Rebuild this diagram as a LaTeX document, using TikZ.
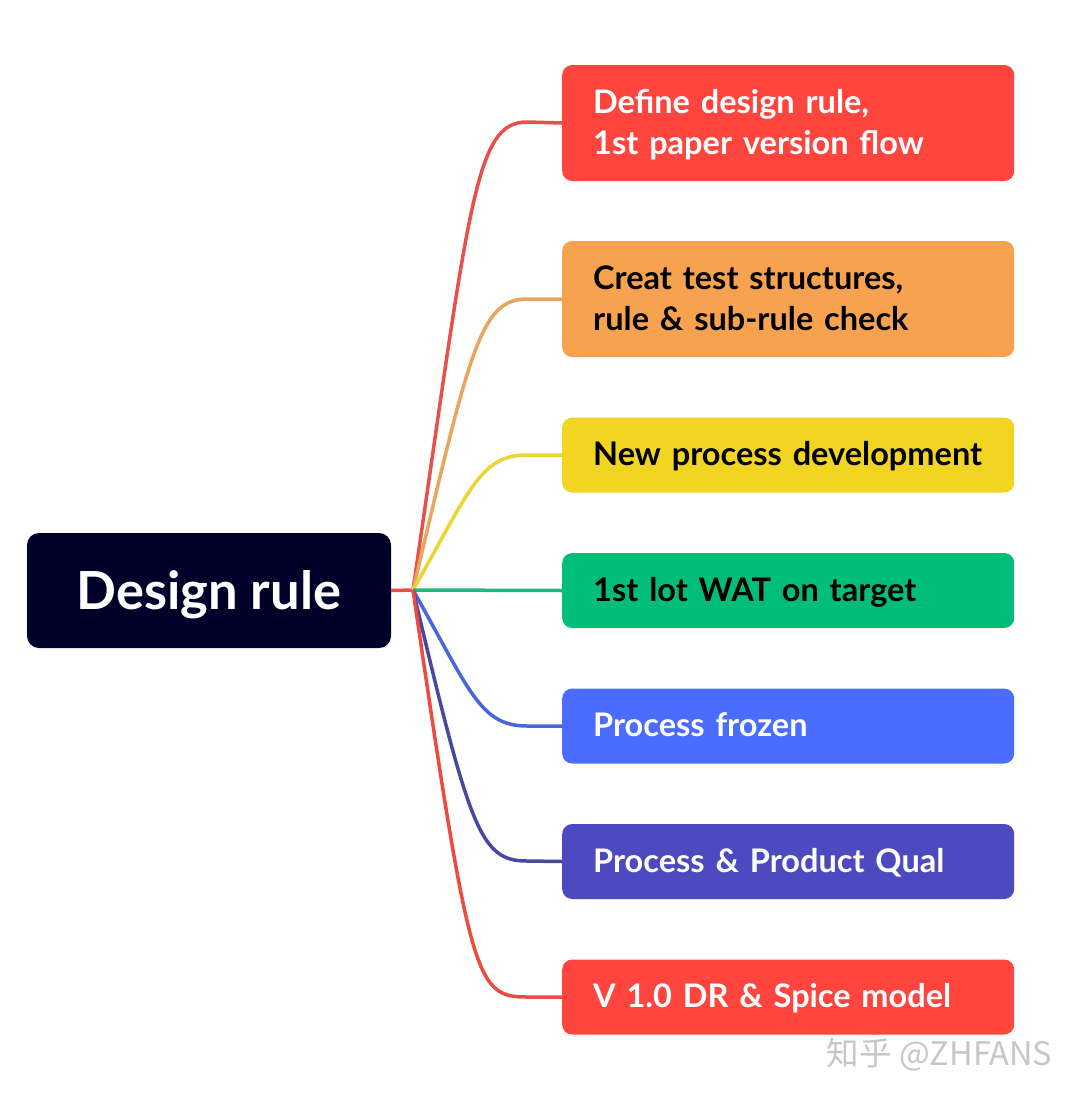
\documentclass[tikz,border=0pt]{standalone}
\usepackage{fontspec}
\setmainfont{Lato}[Scale=1]
\newfontfamily\cjkfont{Noto Sans CJK SC}
\definecolor{rootc}{HTML}{000028}
\definecolor{redc}{HTML}{FF453D}
\definecolor{orangec}{HTML}{F7A24E}
\definecolor{yellowc}{HTML}{F2D422}
\definecolor{greenc}{HTML}{00BE79}
\definecolor{bluec}{HTML}{4A6CFF}
\definecolor{indigoc}{HTML}{4D49BE}
\definecolor{lredc}{HTML}{E8504A}
\definecolor{lorangec}{HTML}{E8A55E}
\definecolor{lyellowc}{HTML}{ECD433}
\definecolor{lgreenc}{HTML}{1DB87F}
\definecolor{lbluec}{HTML}{4A66DD}
\definecolor{lindigoc}{HTML}{4A479F}
\definecolor{lastredc}{HTML}{EE4A40}
\newcommand{\topstrut}{\rule{0pt}{30pt}}
\newcommand{\botstrut}{\rule[-9pt]{0pt}{9pt}}
\tikzset{
  x=1pt,y=-1pt,
  leaf/.style={rectangle,rounded corners=10pt,minimum width=452pt,inner xsep=0pt,inner ysep=0pt,anchor=west,font=\fontsize{32.5}{41}\selectfont\bfseries,align=left,text width=390pt},
  tall/.style={leaf,minimum height=116pt},
  short/.style={leaf,minimum height=75pt,text height=29pt,text depth=8pt},
  conn/.style={line width=3.5pt}
}
\begin{document}
\begin{tikzpicture}
\useasboundingbox (0,0) rectangle (1080,1100);
\fill[white] (0,0) rectangle (1080,1100);
\node[rectangle,rounded corners=12pt,fill=rootc,text=white,minimum width=364pt,minimum height=115pt,text height=49pt,text depth=12pt,font=\fontsize{52.5}{50}\selectfont\bfseries] (root) at (209,590.5) {Design rule};
\coordinate (hub) at (413,590);
\node[tall,fill=redc,text=white] (n1) at (562,123) {\topstrut Define design rule,\\1st paper version flow\botstrut};
\node[tall,fill=orangec,text=black] (n2) at (562,299) {\topstrut Creat test structures,\\rule \& sub-rule check\botstrut};
\node[short,fill=yellowc,text=black] (n3) at (562,455) {New process development};
\node[short,fill=greenc,text=black] (n4) at (562,590.5) {1st lot WAT on target};
\node[short,fill=bluec,text=white] (n5) at (562,726) {Process frozen};
\node[short,fill=indigoc,text=white] (n6) at (562,861.5) {Process \& Product Qual};
\node[short,fill=redc,text=white] (n7) at (562,997) {V 1.0 DR \& Spice model};
\draw[conn,lredc] (root.east) -- (hub);
\draw[conn,lredc] (hub) .. controls (470,200) and (475,122) .. (527,122) -- (n1.west);
\draw[conn,lorangec] (hub) .. controls (470,350) and (480,299) .. (527,299) -- (n2.west);
\draw[conn,lyellowc] (hub) .. controls (470,490) and (480,455) .. (527,455) -- (n3.west);
\draw[conn,lgreenc] (hub) -- (n4.west);
\draw[conn,lbluec] (hub) .. controls (470,691) and (480,726) .. (527,726) -- (n5.west);
\draw[conn,lindigoc] (hub) .. controls (470,830) and (480,861) .. (527,861) -- (n6.west);
\draw[conn,lastredc] (hub) .. controls (470,980) and (475,997) .. (527,997) -- (n7.west);
\node[text=black!22,font=\fontsize{32.5}{36}\cjkfont,anchor=center] (wm) at (939.5,1055) {知乎 @ZHFANS};
\end{tikzpicture}
\end{document}
